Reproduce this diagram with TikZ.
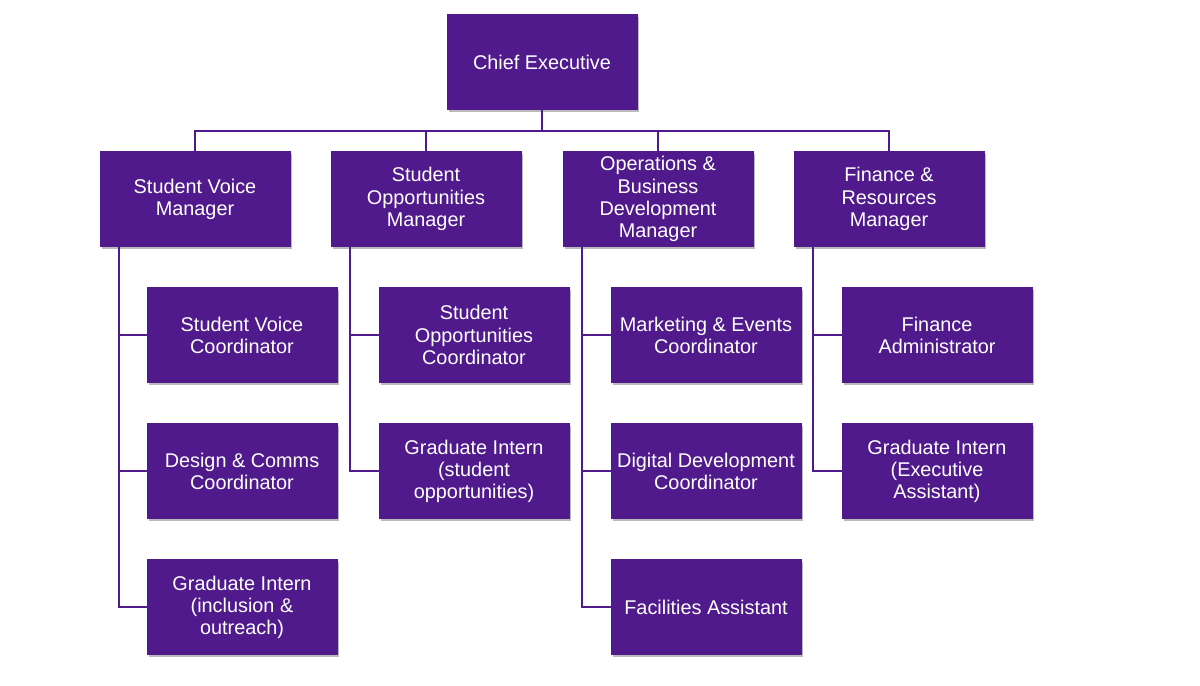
\documentclass[tikz,border=0pt]{standalone}
\usepackage{fontspec}
\setmainfont{Liberation Sans}
\usetikzlibrary{shadows}
\definecolor{uvpurple}{RGB}{80,26,140}
\tikzset{
	post/.style={draw=uvpurple,fill=uvpurple,text=white,minimum width=3.8cm,minimum height=1.9cm,
		align=center,inner sep=1pt,font=\fontsize{11.3}{12.6}\selectfont,
		drop shadow={shadow xshift=1.2pt,shadow yshift=-1.2pt,fill=black!45,opacity=0.6}},
	link/.style={draw=uvpurple,line width=1.1pt}
}
\begin{document}
\begin{tikzpicture}[x=0.02cm,y=-0.02cm]
\useasboundingbox (0,0) rectangle (1200,686);

\node[post] (Chief) at (542,62) {Chief Executive};

\node[post] (VoiceMgr) at (195,199) {Student Voice\\Manager};
\node[post] (OppMgr) at (426,199) {Student\\Opportunities\\Manager};
\node[post] (OpsMgr) at (658,199) {Operations \&\\Business\\Development\\Manager};
\node[post] (FinMgr) at (889,199) {Finance \&\\Resources\\Manager};

\node[post] (Voice1) at (242,335) {Student Voice\\Coordinator};
\node[post] (Voice2) at (242,471) {Design \& Comms\\Coordinator};
\node[post] (Voice3) at (242,607) {Graduate Intern\\(inclusion \&\\outreach)};

\node[post] (Opp1) at (474,335) {Student\\Opportunities\\Coordinator};
\node[post] (Opp2) at (474,471) {Graduate Intern\\(student\\opportunities)};

\node[post] (Ops1) at (706,335) {Marketing \& Events\\Coordinator};
\node[post] (Ops2) at (706,471) {Digital Development\\Coordinator};
\node[post] (Ops3) at (706,607) {Facilities Assistant};

\node[post] (Fin1) at (937,335) {Finance\\Administrator};
\node[post] (Fin2) at (937,471) {Graduate Intern\\(Executive\\Assistant)};

% top level
\coordinate (Bus) at (542,131);
\draw[link] (Chief.south) -- (Bus);
\foreach \m in {VoiceMgr,OppMgr,OpsMgr,FinMgr}
	\draw[link] (\m.north) -- (\m.north |- Bus) -- (Bus);

% spines down to the coordinators
\foreach \m/\kids in {VoiceMgr/{Voice1,Voice2,Voice3},OppMgr/{Opp1,Opp2},
	OpsMgr/{Ops1,Ops2,Ops3},FinMgr/{Fin1,Fin2}}
	{
	\coordinate (Spine) at ([xshift=19*0.02cm]\m.south west);
	\foreach \k in \kids
		\draw[link] (Spine) -- (Spine |- \k.west) -- (\k.west);
	}
\end{tikzpicture}
\end{document}
